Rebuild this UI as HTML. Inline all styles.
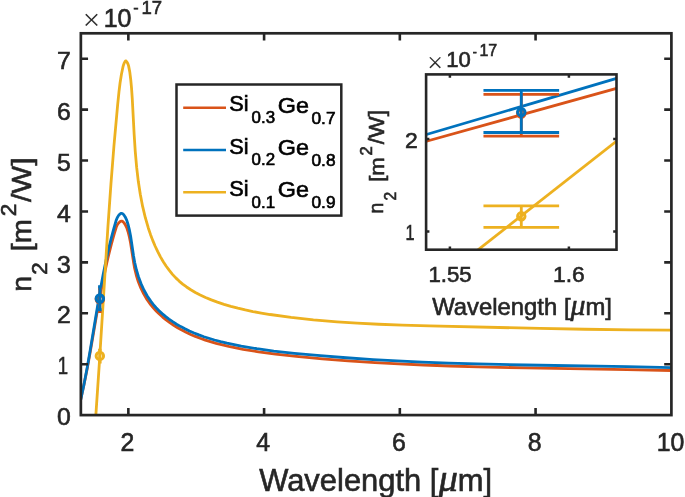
<!DOCTYPE html><html><head><meta charset="utf-8"><title>n2 vs wavelength</title><style>html,body{margin:0;padding:0;background:#fff;width:685px;height:497px;overflow:hidden}svg{display:block}</style></head><body>
<svg width="685" height="497" viewBox="0 0 685 497" font-family="'Liberation Sans', Arial, Helvetica, sans-serif">
<rect class="g" width="685" height="497" fill="#fff"/>
<defs><clipPath id="cm"><rect x="80.85" y="33.3" width="590.55" height="381.80"/></clipPath><clipPath id="ci"><rect x="426.1" y="74.4" width="190.40" height="175.30"/></clipPath></defs>
<g class="g" clip-path="url(#cm)" fill="none" stroke-width="2.8" stroke-linejoin="round">
<path d="M80.69,399.44 83.89,385.12 87.00,369.66 90.28,351.74 96.97,312.85 99.48,298.93 103.81,276.84 107.05,261.75 109.22,252.59 111.50,243.69 114.01,234.64 116.16,227.51 117.18,225.07 118.40,223.14 119.95,221.66 120.69,221.24 121.32,221.09 122.14,221.19 122.98,221.75 124.07,222.92 125.08,224.36 126.69,227.63 128.13,232.02 129.43,237.15 130.59,242.94 133.46,261.66 134.67,268.38 136.31,275.25 138.32,281.72 140.79,287.98 143.68,293.88 146.96,299.43 150.65,304.61 153.31,307.85 156.17,310.98 159.31,314.08 162.62,317.05 166.10,319.89 169.82,322.66 173.68,325.28 177.65,327.74 181.83,330.10 186.09,332.29 190.67,334.44 195.32,336.43 200.16,338.30 205.32,340.11 216.21,343.39 228.75,346.46 243.16,349.33 258.58,351.86 275.55,354.13 296.38,356.41 322.29,358.79 348.10,360.81 375.02,362.58 398.81,363.88 423.72,365.02 450.01,366.00 478.09,366.84 525.78,367.92 627.17,369.61 671.38,370.52" stroke="#D95319"/>
<path d="M80.69,399.94 83.86,384.98 87.02,368.44 90.33,349.53 99.91,292.02 103.30,273.73 106.64,257.57 108.91,247.61 111.26,238.05 113.86,228.30 116.16,220.37 117.24,217.69 118.48,215.63 119.26,214.71 120.16,213.90 120.90,213.46 121.53,213.30 122.33,213.50 123.16,214.15 124.22,215.41 125.21,216.94 126.79,220.40 128.21,224.99 129.46,230.18 130.59,236.02 133.48,255.42 134.72,262.51 136.38,269.72 138.45,276.73 141.00,283.58 143.92,289.97 147.25,295.96 150.89,301.40 153.40,304.63 156.08,307.71 159.02,310.74 162.11,313.62 165.45,316.44 168.93,319.10 172.65,321.69 176.59,324.20 180.74,326.60 184.98,328.84 189.42,330.98 194.05,333.01 198.88,334.92 203.90,336.73 214.50,340.01 220.60,341.63 227.01,343.16 241.27,346.09 256.82,348.70 273.78,351.02 294.34,353.30 320.25,355.72 346.18,357.77 373.10,359.56 397.17,360.90 422.21,362.05 448.78,363.05 477.13,363.91 525.37,365.01 627.31,366.71 671.38,367.62" stroke="#0072BD"/>
<path d="M95.86,415.07 99.27,364.42 107.98,225.79 110.95,183.79 113.94,146.00 117.62,105.22 118.97,91.88 120.05,83.02 121.40,74.46 122.95,66.95 123.60,64.69 124.32,62.80 125.12,61.31 125.65,60.92 125.95,60.98 126.36,61.29 127.28,62.53 128.02,64.09 128.59,65.88 129.73,71.68 130.72,79.47 131.55,88.38 132.25,98.28 134.18,134.79 135.25,151.29 136.63,167.19 138.33,181.58 140.29,194.29 142.63,206.40 145.33,217.71 148.37,228.20 150.47,234.41 152.72,240.38 155.19,246.26 157.75,251.70 160.45,256.86 163.28,261.72 166.24,266.25 169.32,270.45 172.50,274.33 175.78,277.87 179.13,281.08 182.68,284.09 186.57,286.99 190.79,289.78 195.34,292.45 200.21,294.99 205.55,297.47 211.35,299.87 217.40,302.11 224.03,304.31 230.86,306.34 237.89,308.20 245.30,309.94 252.91,311.53 261.26,313.06 270.17,314.51 291.10,317.35 313.39,319.79 337.04,321.81 357.15,323.15 378.76,324.26 402.21,325.17 429.33,325.94 540.06,328.39 584.98,329.27 630.68,329.90 671.44,330.12" stroke="#EDB120"/>
<path d="M99.84,311.71 L99.84,288.75 M98.08,311.71 L101.61,311.71 M98.08,288.75 L101.61,288.75" stroke="#D95319" stroke-width="2.8"/>
<circle cx="99.84" cy="299.29" r="3.7" stroke="#D95319" stroke-width="3.0" fill="none"/>
<path d="M99.84,309.77 L99.84,286.56 M98.08,309.77 L101.61,309.77 M98.08,286.56 L101.61,286.56" stroke="#0072BD" stroke-width="2.8"/>
<circle cx="99.84" cy="298.52" r="3.7" stroke="#0072BD" stroke-width="3.0" fill="none"/>
<path d="M99.84,362.00 L99.84,350.19 M98.08,362.00 L101.61,362.00 M98.08,350.19 L101.61,350.19" stroke="#EDB120" stroke-width="2.8"/>
<circle cx="99.84" cy="355.90" r="3.7" stroke="#EDB120" stroke-width="3.0" fill="none"/>
</g>
<path class="g" d="M128.35,415.1 L128.35,407.90000000000003 M128.35,33.3 L128.35,40.5 M264.09,415.1 L264.09,407.90000000000003 M264.09,33.3 L264.09,40.5 M399.83,415.1 L399.83,407.90000000000003 M399.83,33.3 L399.83,40.5 M535.57,415.1 L535.57,407.90000000000003 M535.57,33.3 L535.57,40.5 M80.85,364.19 L88.05,364.19 M671.4,364.19 L664.1999999999999,364.19 M80.85,313.29 L88.05,313.29 M671.4,313.29 L664.1999999999999,313.29 M80.85,262.38 L88.05,262.38 M671.4,262.38 L664.1999999999999,262.38 M80.85,211.47 L88.05,211.47 M671.4,211.47 L664.1999999999999,211.47 M80.85,160.57 L88.05,160.57 M671.4,160.57 L664.1999999999999,160.57 M80.85,109.66 L88.05,109.66 M671.4,109.66 L664.1999999999999,109.66 M80.85,58.75 L88.05,58.75 M671.4,58.75 L664.1999999999999,58.75" stroke="#262626" stroke-width="2.6" fill="none"/>
<rect class="g" x="80.85" y="33.3" width="590.55" height="381.80" stroke="#262626" stroke-width="2.7" fill="none"/>
<text class="t" transform="translate(70.71,425.26)" font-size="24.81" text-anchor="end" fill="#262626" stroke="#262626" stroke-width="0.6">0</text>
<text id="yt1" class="t" transform="translate(67.96,374.41) scale(0.7500,1)" font-size="24.75" text-anchor="end" fill="#262626" stroke="#262626" stroke-width="0.6">1</text>
<text class="t" transform="translate(70.71,323.45)" font-size="24.81" text-anchor="end" fill="#262626" stroke="#262626" stroke-width="0.6">2</text>
<text class="t" transform="translate(70.71,272.54)" font-size="24.81" text-anchor="end" fill="#262626" stroke="#262626" stroke-width="0.6">3</text>
<text id="yt4" class="t" transform="translate(70.71,221.63)" font-size="24.81" text-anchor="end" fill="#262626" stroke="#262626" stroke-width="0.6">4</text>
<text class="t" transform="translate(70.71,170.73)" font-size="24.81" text-anchor="end" fill="#262626" stroke="#262626" stroke-width="0.6">5</text>
<text class="t" transform="translate(70.71,119.82)" font-size="24.81" text-anchor="end" fill="#262626" stroke="#262626" stroke-width="0.6">6</text>
<text class="t" transform="translate(70.71,68.91)" font-size="24.81" text-anchor="end" fill="#262626" stroke="#262626" stroke-width="0.6">7</text>
<text id="xt2" class="t" transform="translate(127.53,450.51)" font-size="24.85" text-anchor="middle" fill="#262626" stroke="#262626" stroke-width="0.6">2</text>
<text class="t" transform="translate(263.27,450.51)" font-size="24.85" text-anchor="middle" fill="#262626" stroke="#262626" stroke-width="0.6">4</text>
<text class="t" transform="translate(399.01,450.51)" font-size="24.85" text-anchor="middle" fill="#262626" stroke="#262626" stroke-width="0.6">6</text>
<text class="t" transform="translate(534.75,450.51)" font-size="24.85" text-anchor="middle" fill="#262626" stroke="#262626" stroke-width="0.6">8</text>
<text class="t" transform="translate(670.49,450.51)" font-size="24.85" text-anchor="middle" fill="#262626" stroke="#262626" stroke-width="0.6">10</text>
<text id="xl" class="t" transform="translate(259.16,491.49)" font-size="30.92" fill="#262626" stroke="#262626" stroke-width="0.6">Wavelength [<tspan font-family="'Liberation Serif', serif" font-style="italic" font-size="1.25em">μ</tspan>m]</text>
<text id="ex_x" class="t" transform="translate(81.94,27.42)" font-family="'Noto Sans CJK JP', sans-serif" font-size="18.99" fill="#262626" stroke="#262626" stroke-width="0.15">×</text>
<text id="ex_10" class="t" transform="translate(103.69,27.17)" font-size="24.93" fill="#262626" stroke="#262626" stroke-width="0.6">10</text>
<text id="ex_m" class="t" transform="translate(133.27,13.31)" font-size="16.10" fill="#262626" stroke="#262626" stroke-width="0.6">-</text>
<text id="ex_17" class="t" transform="translate(141.53,13.57)" font-size="18.55" fill="#262626" stroke="#262626" stroke-width="0.6">17</text>
<text id="yl_n" class="t" transform="translate(31.07,291.72) rotate(-90) scale(1.0255,1)" font-size="27.79" fill="#262626" stroke="#262626" stroke-width="0.6">n</text>
<text id="yl_s" class="t" transform="translate(46.52,274.69) rotate(-90) scale(1.0242,1)" font-size="21.85" fill="#262626" stroke="#262626" stroke-width="0.6">2</text>
<text id="yl_m" class="t" transform="translate(31.10,251.31) rotate(-90) scale(1.0196,1)" font-size="28.32" fill="#262626" stroke="#262626" stroke-width="0.6">[m</text>
<text id="yl_p" class="t" transform="translate(16.33,216.15) rotate(-90) scale(1.0562,1)" font-size="21.42" fill="#262626" stroke="#262626" stroke-width="0.6">2</text>
<text id="yl_w" class="t" transform="translate(31.14,202.06) rotate(-90) scale(1.0655,1)" font-size="27.82" fill="#262626" stroke="#262626" stroke-width="0.6">/W]</text>
<rect class="g" x="176.5" y="84.5" width="164.8" height="131.1" fill="#fff" stroke="#262626" stroke-width="2.5"/>
<path class="g" d="M183.2,107.80 L226,107.80" stroke="#D95319" stroke-width="2.6"/>
<text id="lg_si" class="t" transform="translate(229.34,111.28) scale(1.0205,1)" font-size="21.33" fill="#000" stroke="#000" stroke-width="0.6">Si</text>
<text id="lg_a" class="t" transform="translate(251.60,123.24) scale(1.0665,1)" font-size="15.86" fill="#000" stroke="#000" stroke-width="0.6">0.3</text>
<text id="lg_ge" class="t" transform="translate(277.81,112.58) scale(1.0196,1)" font-size="22.93" fill="#000" stroke="#000" stroke-width="0.6">Ge</text>
<text id="lg_b" class="t" transform="translate(311.47,123.67) scale(1.0689,1)" font-size="16.18" fill="#000" stroke="#000" stroke-width="0.6">0.7</text>
<path class="g" d="M183.2,150.05 L226,150.05" stroke="#0072BD" stroke-width="2.6"/>
<text class="t" transform="translate(229.34,153.53) scale(1.0205,1)" font-size="21.33" fill="#000" stroke="#000" stroke-width="0.6">Si</text>
<text class="t" transform="translate(251.60,165.49) scale(1.0665,1)" font-size="15.86" fill="#000" stroke="#000" stroke-width="0.6">0.2</text>
<text class="t" transform="translate(277.81,154.83) scale(1.0196,1)" font-size="22.93" fill="#000" stroke="#000" stroke-width="0.6">Ge</text>
<text class="t" transform="translate(311.47,165.92) scale(1.0689,1)" font-size="16.18" fill="#000" stroke="#000" stroke-width="0.6">0.8</text>
<path class="g" d="M183.2,192.30 L226,192.30" stroke="#EDB120" stroke-width="2.6"/>
<text class="t" transform="translate(229.34,195.78) scale(1.0205,1)" font-size="21.33" fill="#000" stroke="#000" stroke-width="0.6">Si</text>
<text class="t" transform="translate(251.60,207.74) scale(1.0665,1)" font-size="15.86" fill="#000" stroke="#000" stroke-width="0.6">0.1</text>
<text class="t" transform="translate(277.81,197.08) scale(1.0196,1)" font-size="22.93" fill="#000" stroke="#000" stroke-width="0.6">Ge</text>
<text class="t" transform="translate(311.47,208.17) scale(1.0689,1)" font-size="16.18" fill="#000" stroke="#000" stroke-width="0.6">0.9</text>
<rect class="g" x="426.1" y="74.4" width="190.40" height="175.30" fill="#fff"/>
<g class="g" clip-path="url(#ci)" fill="none" stroke-width="2.8">
<path d="M421.1,142.69 L621.5,87.01" stroke="#D95319"/>
<path d="M421.1,136.07 L621.5,76.98" stroke="#0072BD"/>
<path d="M471.45,255 L618,139.9" stroke="#EDB120"/>
<path d="M521.30,136.03 L521.30,94.31 M483.46,136.03 L559.14,136.03 M483.46,94.31 L559.14,94.31" stroke="#D95319" stroke-width="2.8"/>
<circle cx="521.30" cy="113.46" r="3.7" stroke="#D95319" stroke-width="3.0" fill="none"/>
<path d="M521.30,132.52 L521.30,90.34 M483.46,132.52 L559.14,132.52 M483.46,90.34 L559.14,90.34" stroke="#0072BD" stroke-width="2.8"/>
<circle cx="521.30" cy="112.08" r="3.7" stroke="#0072BD" stroke-width="3.0" fill="none"/>
<path d="M521.30,227.42 L521.30,205.96 M483.46,227.42 L559.14,227.42 M483.46,205.96 L559.14,205.96" stroke="#EDB120" stroke-width="2.8"/>
<circle cx="521.30" cy="216.32" r="3.7" stroke="#EDB120" stroke-width="3.0" fill="none"/>
</g>
<path class="g" d="M449.90,249.7 L449.90,246.39999999999998 M449.90,74.4 L449.90,77.7 M568.90,249.7 L568.90,246.39999999999998 M568.90,74.4 L568.90,77.7 M426.1,231.40 L429.40000000000003,231.40 M616.5,231.40 L613.2,231.40 M426.1,138.90 L429.40000000000003,138.90 M616.5,138.90 L613.2,138.90" stroke="#262626" stroke-width="2.5" fill="none"/>
<rect class="g" x="426.1" y="74.4" width="190.40" height="175.30" stroke="#262626" stroke-width="2.6" fill="none"/>
<text id="i155" class="t" transform="translate(450.06,281.86) scale(0.9711,1)" font-size="22.93" text-anchor="middle" fill="#262626" stroke="#262626" stroke-width="0.6">1.55</text>
<text id="i16" class="t" transform="translate(568.91,281.75) scale(1.0075,1)" font-size="22.63" text-anchor="middle" fill="#262626" stroke="#262626" stroke-width="0.6">1.6</text>
<text id="ixl" class="t" transform="translate(432.14,315.29)" font-size="23.87" fill="#262626" stroke="#262626" stroke-width="0.6">Wavelength [<tspan font-family="'Liberation Serif', serif" font-style="italic" font-size="1.25em">μ</tspan>m]</text>
<text id="iy1" class="t" transform="translate(414.54,240.36) scale(0.7500,1)" font-size="21.72" text-anchor="end" fill="#262626" stroke="#262626" stroke-width="0.6">1</text>
<text id="iy2" class="t" transform="translate(417.75,148.08)" font-size="22.93" text-anchor="end" fill="#262626" stroke="#262626" stroke-width="0.6">2</text>
<text id="iyl_n" class="t" transform="translate(383.14,213.54) rotate(-90) scale(0.9940,1)" font-size="19.32" fill="#262626" stroke="#262626" stroke-width="0.6">n</text>
<text id="iyl_s" class="t" transform="translate(395.52,200.56) rotate(-90)" font-size="15.69" fill="#262626" stroke="#262626" stroke-width="0.6">2</text>
<text id="iyl_m" class="t" transform="translate(383.57,181.82) rotate(-90) scale(1.0700,1)" font-size="20.59" fill="#262626" stroke="#262626" stroke-width="0.6">[m</text>
<text id="iyl_p" class="t" transform="translate(371.84,155.42) rotate(-90)" font-size="16.51" fill="#262626" stroke="#262626" stroke-width="0.6">2</text>
<text id="iyl_w" class="t" transform="translate(383.62,144.24) rotate(-90) scale(1.0700,1)" font-size="21.36" fill="#262626" stroke="#262626" stroke-width="0.6">/W]</text>
<text id="iex_x" class="t" transform="translate(426.50,68.83)" font-family="'Noto Sans CJK JP', sans-serif" font-size="17.26" fill="#262626" stroke="#262626" stroke-width="0.15">×</text>
<text id="iex_10" class="t" transform="translate(446.18,67.40)" font-size="22.09" fill="#262626" stroke="#262626" stroke-width="0.6">10</text>
<text id="iex_m" class="t" transform="translate(472.74,55.56)" font-size="12.16" fill="#262626" stroke="#262626" stroke-width="0.6">-</text>
<text id="iex_17" class="t" transform="translate(479.43,56.24)" font-size="16.00" fill="#262626" stroke="#262626" stroke-width="0.6">17</text>
</svg>
</body></html>
